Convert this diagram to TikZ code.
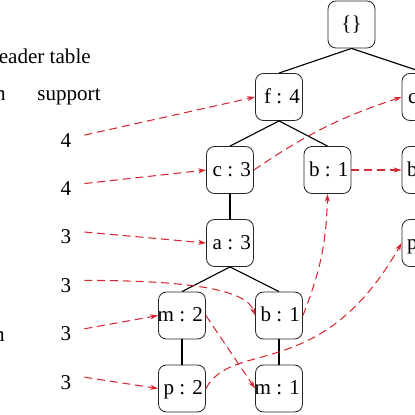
\documentclass[tikz,border=0pt]{standalone}
\usepackage{fontspec}
\setmainfont{Liberation Serif}
\usetikzlibrary{arrows.meta}
\definecolor{linkred}{RGB}{214,40,52}
\newcommand{\fplab}[1]{\makebox[10.4mm][r]{#1}}

\begin{document}
\begin{tikzpicture}[
    x=0.25mm,y=-0.25mm,
    font=\fontsize{15}{18}\selectfont,
    fpnode/.style={draw=black!85, rounded corners=2mm, line width=0.6pt,
      minimum width=11.75mm, minimum height=11.75mm,
      inner xsep=0pt, text height=0.9em, text depth=0pt},
    cnt/.style={anchor=base, inner xsep=3.2mm, inner ysep=1mm},
    lbl/.style={inner sep=0pt},
    tree/.style={line width=0.8pt},
    link/.style={draw=linkred, line width=0.75pt, dash pattern=on 2mm off 1.2mm,
      -{Stealth[open, length=2mm, width=1.3mm]}}
  ]
    \useasboundingbox (0,0) rectangle (415,415);
    \clip (0,0) rectangle (415,415);

    % header table
    \node[lbl, anchor=base east] (hdr) at (91,63) {Header table};
    \node[lbl, anchor=base east] (itm) at (6,100) {item};
    \node[lbl, anchor=base] (sup) at (69,100) {support};
    \node[lbl, anchor=base east] (im) at (5,341) {m};
    \node[cnt] (s1) at (66,147) {4};
    \node[cnt] (s2) at (66,195.4) {4};
    \node[cnt] (s3) at (66,243.8) {3};
    \node[cnt] (s4) at (66,292.2) {3};
    \node[cnt] (s5) at (66,340.6) {3};
    \node[cnt] (s6) at (66,389) {3};

    % fp-tree
    \node[fpnode] (root) at (351.5,24.5) {\{\}};
    \node[fpnode] (f4) at (279,97) {\fplab{f : 4}};
    \node[fpnode] (c1) at (425.5,97) {\fplab{c : 1}};
    \node[fpnode] (c3) at (230,170) {\fplab{c : 3}};
    \node[fpnode] (b1f) at (327.5,170) {\fplab{b : 1}};
    \node[fpnode] (b1c) at (425.5,170) {\fplab{b : 1}};
    \node[fpnode] (a3) at (230,243) {\fplab{a : 3}};
    \node[fpnode] (p1) at (425.5,243) {\fplab{p : 1}};
    \node[fpnode] (m2) at (182,315.5) {\fplab{m : 2}};
    \node[fpnode] (b1a) at (279,315.5) {\fplab{b : 1}};
    \node[fpnode] (p2) at (182,388.5) {\fplab{p : 2}};
    \node[fpnode] (m1) at (279,388.5) {\fplab{m : 1}};

    \draw[tree] (root.south) -- (f4.north);
    \draw[tree] (root.south) -- (c1.north);
    \draw[tree] (f4.south) -- (c3.north);
    \draw[tree] (f4.south) -- (b1f.north);
    \draw[tree] (c3) -- (a3);
    \draw[tree] (a3.south) -- (m2.north);
    \draw[tree] (a3.south) -- (b1a.north);
    \draw[tree] (m2) -- (p2);
    \draw[tree] (b1a) -- (m1);

    % node links
    \draw[link] (s1.15) -- (f4.west);
    \draw[link] (s2.15) -- (c3.west);
    \draw[link] (c3.east) to[bend left=8] (c1.west);
    \draw[link] (b1f.east) -- (b1c.west);
    \draw[link] (s3.15) -- (a3.west);
    \draw[link] (s4.15) .. controls +(110,0) and +(-8,-25) .. (b1a.west);
    \draw[link] (b1a.east) to[bend right=10] (b1f.south);
    \draw[link] (s5.15) -- (m2.west);
    \draw[link] (m2.east) -- (m1.west);
    \draw[link] (s6.15) -- (p2.west);
    \draw[link] (p2.east) .. controls +(27,-50) and +(-80,141) .. (p1.west);
  \end{tikzpicture}
\end{document}
